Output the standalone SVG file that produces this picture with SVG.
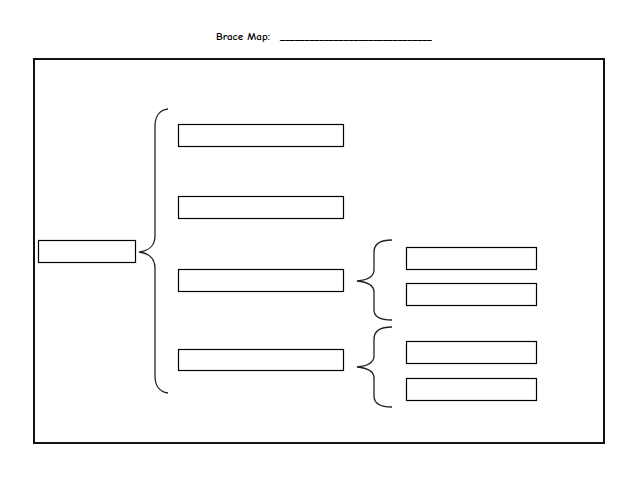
<svg xmlns="http://www.w3.org/2000/svg" width="638" height="493" viewBox="0 0 638 493">
<style>
.box{fill:#fff;stroke:#000;stroke-width:1.2}
.brace{fill:none;stroke:#222;stroke-width:1.3}
.title{font-family:"Comic Neue","Liberation Sans",sans-serif;font-size:10px;font-weight:bold;fill:#000}
</style>
<rect width="638" height="493" fill="#fff"/>
<g id="title">
<text class="title" x="216" y="40" textLength="54" lengthAdjust="spacingAndGlyphs">Brace Map:</text>
<text class="title" x="280" y="40" textLength="152" lengthAdjust="spacingAndGlyphs">_______________________________</text>
</g>
<rect id="frame" x="34" y="59" width="570" height="384" fill="none" stroke="#111" stroke-width="2"/>
<g id="connectors">
<path class="brace" d="M168,109 C160,110 155,116 155,126 L155,236 C155,246 148,251 139,252 C148,253 155,258 155,268 L155,376 C155,386 160,392 168,393"/>
<path class="brace" d="M392,240 C380,240 374,244 374,252 L374,270 C374,276 368,280 357,281 C368,282 374,286 374,292 L374,310 C374,317 380,320 392,320"/>
<path class="brace" d="M392,327 C380,327 374,331 374,339 L374,356 C374,362 368,366 357,367 C368,368 374,372 374,378 L374,396 C374,403 380,407 392,407"/>
</g>
<g id="root"><rect class="box" x="38.5" y="240.5" width="97" height="22"/></g>
<g id="n1"><rect class="box" x="178.5" y="124.5" width="165" height="22"/></g>
<g id="n2"><rect class="box" x="178.5" y="196.5" width="165" height="22"/></g>
<g id="n3"><rect class="box" x="178.5" y="269.5" width="165" height="22"/></g>
<g id="n4"><rect class="box" x="178.5" y="349.5" width="165" height="21"/></g>
<g id="n3a"><rect class="box" x="406.5" y="247.5" width="130" height="22"/></g>
<g id="n3b"><rect class="box" x="406.5" y="283.5" width="130" height="22"/></g>
<g id="n4a"><rect class="box" x="406.5" y="341.5" width="130" height="22"/></g>
<g id="n4b"><rect class="box" x="406.5" y="378.5" width="130" height="22"/></g>
</svg>
